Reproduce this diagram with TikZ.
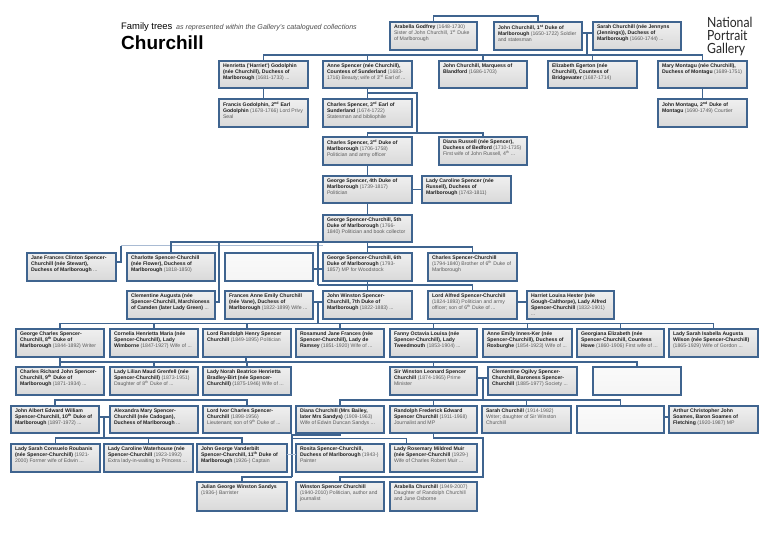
\documentclass[tikz,border=0pt]{standalone}
\usepackage{fontspec}
\setmainfont{Liberation Sans}
\newfontfamily\logofont[FakeStretch=0.87]{Lato}
\usetikzlibrary{shadows,calc}
\definecolor{edge}{HTML}{3F648F}
\definecolor{lightedge}{HTML}{A9BBD3}
\definecolor{namec}{HTML}{1E1E1E}
\definecolor{infoc}{HTML}{5A5A5A}
\tikzset{
  famnode/.style={rectangle,draw=edge,line width=1.1pt,top color=black!6,bottom color=black!15,
    inner xsep=4pt,inner ysep=3pt,outer sep=0pt,anchor=north west,
    drop shadow={shadow xshift=0.8pt,shadow yshift=-0.8pt,fill=black,opacity=0.3}},
  blanknode/.style={famnode,top color=black!2,bottom color=black!4},
  conn/.style={draw=edge,line width=1.05pt},
  faint/.style={draw=lightedge,line width=1pt},
  titletext/.style={anchor=base west,inner sep=0pt,text=black}
}
\newcommand{\famtext}{\fontsize{5.15}{6}\selectfont\raggedright\color{infoc}}
\newcommand{\nm}[1]{\textbf{\textcolor{namec}{#1}}}
\newcommand{\bx}[6]{%
  \pgfmathsetlengthmacro{\bw}{#4-#2-8}%
  \pgfmathsetlengthmacro{\bh}{#5-#3-6}%
  \node[famnode] (#1) at (#2,#3) {\parbox[c][\bh][t]{\bw}{\famtext #6}};}
\newcommand{\bk}[5]{%
  \pgfmathsetlengthmacro{\bw}{#4-#2-8}%
  \pgfmathsetlengthmacro{\bh}{#5-#3-6}%
  \node[blanknode] (#1) at (#2,#3) {\parbox[c][\bh][t]{\bw}{\famtext\strut}};}
\newcommand{\drop}[2]{\draw[conn] (#1.north) -- (#1.north |- #2);}
\newcommand{\sth}[0]{\textsuperscript}
\begin{document}
\begin{tikzpicture}[x=1pt,y=-1pt]
\useasboundingbox (0,0) rectangle (768,544);
\fill[white] (0,0) rectangle (768,544);

\node[titletext,font=\fontsize{9.4}{11}\selectfont] (ft) at (121,29) {Family trees};
\node[titletext,font=\fontsize{7.1}{8}\selectfont\itshape,text=black!70] (fs) at (176,29) {as represented within the Gallery's catalogued collections};
\node[titletext,font=\fontsize{19}{22}\selectfont\bfseries] (fc) at (121,49.5) {Churchill};
\node[titletext,font=\logofont\fontsize{14}{16}\selectfont,text=black!85] (lg1) at (707,27) {National};
\node[titletext,font=\logofont\fontsize{14}{16}\selectfont,text=black!85] (lg2) at (707,40) {Portrait};
\node[titletext,font=\logofont\fontsize{14}{16}\selectfont,text=black!85] (lg3) at (707,53) {Gallery};

% row 0
\bx{arabellaG}{390}{22}{477}{50}{\nm{Arabella Godfrey} (1648-1730)\\Sister of John Churchill, 1\sth{st} Duke\\of Marlborough}
\bx{john}{494}{22}{582}{50}{\nm{John Churchill, 1\sth{st} Duke of}\\\nm{Marlborough} (1650-1722) Soldier\\and statesman}
\bx{sarahJ}{593}{22}{681}{50}{\nm{Sarah Churchill (née Jennyns}\\\nm{(Jennings)), Duchess of}\\\nm{Marlborough} (1660-1744) ...}
% row 1
\bx{henrietta}{219}{61}{308}{88}{\nm{Henrietta ('Harriet') Godolphin}\\\nm{(née Churchill), Duchess of}\\\nm{Marlborough} (1681-1733) ...}
\bx{anne}{323}{61}{412}{88}{\nm{Anne Spencer (née Churchill),}\\\nm{Countess of Sunderland} (1683-\\1716) Beauty; wife of 3\sth{rd} Earl of ...}
\bx{blandford}{439}{61}{527}{88}{\nm{John Churchill, Marquess of}\\\nm{Blandford} (1686-1703)}
\bx{elizabeth}{548}{61}{637}{88}{\nm{Elizabeth Egerton (née}\\\nm{Churchill), Countess of}\\\nm{Bridgewater} (1687-1714)}
\bx{mary}{658}{61}{747}{88}{\nm{Mary Montagu (née Churchill),}\\\nm{Duchess of Montagu} (1689-1751)}
% row 2
\bx{francis}{219}{99}{308}{127}{\nm{Francis Godolphin, 2\sth{nd} Earl}\\\nm{Godolphin} (1678-1766) Lord Privy\\Seal}
\bx{charlesE}{323}{99}{412}{127}{\nm{Charles Spencer, 3\sth{rd} Earl of}\\\nm{Sunderland} (1674-1722)\\Statesman and bibliophile}
\bx{montagu}{658}{99}{747}{127}{\nm{John Montagu, 2\sth{nd} Duke of}\\\nm{Montagu} (1690-1749) Courtier}
% row 3
\bx{charlesD}{323}{137}{412}{165}{\nm{Charles Spencer, 3\sth{rd} Duke of}\\\nm{Marlborough} (1706-1758)\\Politician and army officer}
\bx{dianaR}{439}{137}{527}{165}{\nm{Diana Russell (née Spencer),}\\\nm{Duchess of Bedford} (1710-1735)\\First wife of John Russell, 4\sth{th} ...}
% row 4
\bx{george4}{323}{176}{412}{203}{\nm{George Spencer, 4th Duke of}\\\nm{Marlborough} (1739-1817)\\Politician}
\bx{carolineR}{422}{176}{511}{203}{\nm{Lady Caroline Spencer (née}\\\nm{Russell), Duchess of}\\\nm{Marlborough} (1743-1811)}
% row 5
\bx{george5}{323}{215}{412}{242}{\nm{George Spencer-Churchill, 5th}\\\nm{Duke of Marlborough} (1766-\\1840) Politician and book collector}
% row 6
\bx{jane}{27}{253}{116}{281}{\nm{Jane Frances Clinton Spencer-}\\\nm{Churchill (née Stewart),}\\\nm{Duchess of Marlborough} ...}
\bx{charlotte}{127}{253}{215}{281}{\nm{Charlotte Spencer-Churchill}\\\nm{(née Flower), Duchess of}\\\nm{Marlborough} (1818-1850)}
\bk{blankA}{225}{253}{313}{281}
\bx{george6}{323}{253}{412}{281}{\nm{George Spencer-Churchill, 6th}\\\nm{Duke of Marlborough} (1793-\\1857) MP for Woodstock}
\bx{charlesSC}{428}{253}{517}{281}{\nm{Charles Spencer-Churchill}\\(1794-1840) Brother of 6\sth{th} Duke of\\Marlborough}
% row 7
\bx{clementineA}{127}{291}{215}{319}{\nm{Clementine Augusta (née}\\\nm{Spencer-Churchill, Marchioness}\\\nm{of Camden (later Lady Green)} ...}
\bx{frances}{225}{291}{313}{319}{\nm{Frances Anne Emily Churchill}\\\nm{(née Vane), Duchess of}\\\nm{Marlborough} (1822-1899) Wife ...}
\bx{john7}{323}{291}{412}{319}{\nm{John Winston Spencer-}\\\nm{Churchill, 7th Duke of}\\\nm{Marlborough} (1822-1883) ...}
\bx{alfred}{428}{291}{517}{319}{\nm{Lord Alfred Spencer-Churchill}\\(1824-1893) Politician and army\\officer; son of 6\sth{th} Duke of ...}
\bx{harriet}{527}{291}{614}{319}{\nm{Harriet Louisa Hester (née}\\\nm{Gough-Calthorpe), Lady Alfred}\\\nm{Spencer-Churchill} (1832-1901) ...}
% row 8
\bx{george8}{16}{329}{104}{357}{\nm{George Charles Spencer-}\\\nm{Churchill, 8\sth{th} Duke of}\\\nm{Marlborough} (1844-1892) Writer}
\bx{cornelia}{110}{329}{198}{357}{\nm{Cornelia Henrietta Maria (née}\\\nm{Spencer-Churchill), Lady}\\\nm{Wimborne} (1847-1927) Wife of ...}
\bx{randolphH}{203}{329}{291}{357}{\nm{Lord Randolph Henry Spencer}\\\nm{Churchill} (1849-1895) Politician}
\bx{rosamund}{296}{329}{384}{357}{\nm{Rosamund Jane Frances (née}\\\nm{Spencer-Churchill), Lady de}\\\nm{Ramsey} (1851-1920) Wife of ...}
\bx{fanny}{390}{329}{477}{357}{\nm{Fanny Octavia Louisa (née}\\\nm{Spencer-Churchill), Lady}\\\nm{Tweedmouth} (1853-1904) ...}
\bx{anneE}{483}{329}{572}{357}{\nm{Anne Emily Innes-Ker (née}\\\nm{Spencer-Churchill), Duchess of}\\\nm{Roxburghe} (1854-1923) Wife of ...}
\bx{georgiana}{577}{329}{664}{357}{\nm{Georgiana Elizabeth (née}\\\nm{Spencer-Churchill, Countess}\\\nm{Howe} (1860-1906) First wife of ...}
\bx{sarahW}{669}{329}{758}{357}{\nm{Lady Sarah Isabella Augusta}\\\nm{Wilson (née Spencer-Churchill)}\\(1865-1929) Wife of Gordon ...}
% row 9
\bx{charles9}{16}{367}{104}{395}{\nm{Charles Richard John Spencer-}\\\nm{Churchill, 9\sth{th} Duke of}\\\nm{Marlborough} (1871-1934) ...}
\bx{lilian}{110}{367}{198}{395}{\nm{Lady Lilian Maud Grenfell (née}\\\nm{Spencer-Churchill)} (1873-1951)\\Daughter of 8\sth{th} Duke of ...}
\bx{norah}{203}{367}{291}{395}{\nm{Lady Norah Beatrice Henrietta}\\\nm{Bradley-Birt (née Spencer-}\\\nm{Churchill)} (1875-1946) Wife of ...}
\bx{winston}{390}{367}{477}{395}{\nm{Sir Winston Leonard Spencer}\\\nm{Churchill} (1874-1965) Prime\\Minister}
\bx{clementineO}{488}{367}{577}{395}{\nm{Clementine Ogilvy Spencer-}\\\nm{Churchill, Baroness Spencer-}\\\nm{Churchill} (1885-1977) Society ...}
\bk{blankB}{593}{367}{681}{395}
% row 10
\bx{john10}{11}{406}{99}{433}{\nm{John Albert Edward William}\\\nm{Spencer-Churchill, 10\sth{th} Duke of}\\\nm{Marlborough} (1897-1972) ...}
\bx{alexandra}{110}{406}{198}{433}{\nm{Alexandra Mary Spencer-}\\\nm{Churchill (née Cadogan),}\\\nm{Duchess of Marlborough} ...}
\bx{ivor}{203}{406}{291}{433}{\nm{Lord Ivor Charles Spencer-}\\\nm{Churchill} (1898-1956)\\Lieutenant; son of 9\sth{th} Duke of ...}
\bx{dianaC}{296}{406}{384}{433}{\nm{Diana Churchill (Mrs Bailey,}\\\nm{later Mrs Sandys)} (1909-1963)\\Wife of Edwin Duncan Sandys ...}
\bx{randolphF}{390}{406}{477}{433}{\nm{Randolph Frederick Edward}\\\nm{Spencer Churchill} (1911-1968)\\Journalist and MP}
\bx{sarahC}{482}{406}{571}{433}{\nm{Sarah Churchill} (1914-1982)\\Writer; daughter of Sir Winston\\Churchill}
\bk{blankC}{577}{406}{664}{433}
\bx{arthur}{669}{406}{758}{433}{\nm{Arthur Christopher John}\\\nm{Soames, Baron Soames of}\\\nm{Fletching} (1920-1987) MP}
% row 11
\bx{sarahR}{11}{444}{100}{472}{\nm{Lady Sarah Consuelo Roubanis}\\\nm{(née Spencer-Churchill)} (1921-\\2000) Former wife of Edwin ...}
\bx{carolineW}{104}{444}{193}{472}{\nm{Lady Caroline Waterhouse (née}\\\nm{Spencer-Churchill} (1923-1992)\\Extra lady-in-waiting to Princess ...}
\bx{john11}{197}{444}{287}{472}{\nm{John George Vanderbilt}\\\nm{Spencer-Churchill, 11\sth{th} Duke of}\\\nm{Marlborough} (1926-) Captain}
\bx{rosita}{296}{444}{384}{472}{\nm{Rosita Spencer-Churchill,}\\\nm{Duchess of Marlborough} (1943-)\\Painter}
\bx{rosemary}{390}{444}{477}{472}{\nm{Lady Rosemary Mildred Muir}\\\nm{(née Spencer-Churchill} (1929-)\\Wife of Charles Robert Muir ...}
% row 12
\bx{julian}{197}{482}{287}{511}{\nm{Julian George Winston Sandys}\\(1936-) Barrister}
\bx{winstonSC}{296}{482}{384}{511}{\nm{Winston Spencer Churchill}\\(1940-2010) Politician, author and\\journalist}
\bx{arabellaC}{390}{482}{477}{511}{\nm{Arabella Churchill} (1949-2007)\\Daughter of Randolph Churchill\\and June Osborne}

% helper coordinates
\coordinate (tTop) at (485,16);
\coordinate (j1) at (587,33);
\coordinate (j1b) at (587,55);
\coordinate (a1) at (417,93);
\coordinate (a1b) at (417,133);
\coordinate (b5) at (420,247);
\coordinate (bL) at (318,242);
\coordinate (cl) at (219,302);
\coordinate (jn) at (121,262);
\coordinate (jnT) at (121,245.5);
\coordinate (g6m) at (318,269);
\coordinate (b7) at (318,285);
\coordinate (f7) at (318,302);
\coordinate (b8) at (318,323.5);
\coordinate (al) at (520,302);
\coordinate (b9a) at (150,362);
\coordinate (b9b) at (246,362);
\coordinate (w9) at (483,378);
\coordinate (b10) at (483,400);
\coordinate (b10L) at (150,400);
\coordinate (a10) at (104,417);
\coordinate (b11) at (104,438);
\coordinate (ar) at (666,417);
\coordinate (d10) at (292,435);
\coordinate (d11) at (292,438.5);
\coordinate (b11R) at (483,438);
\coordinate (b12R) at (483,477);
\coordinate (b12L) at (292,477);
\coordinate (r11) at (292,454);

% connectors
\draw[conn] (arabellaG.north) |- (tTop) -| (john.north);
\draw[conn] (john.east |- j1) -- (sarahJ.west |- j1);
\draw[conn] (j1) -- (j1b);
\draw[conn] (henrietta.north) |- (j1b) -| (mary.north);
\drop{anne}{j1b}
\drop{blandford}{j1b}
\drop{elizabeth}{j1b}
\draw[conn] (henrietta.south) -- (francis.north);
\draw[conn] (anne.south) -- (charlesE.north);
\draw[conn] (mary.south) -- (montagu.north);
\draw[conn] (anne.south |- a1) -- (a1) -- (a1b);
\draw[conn] (charlesD.north) |- (a1b) -| (dianaR.north);
\draw[conn] (charlesD.south) -- (george4.north);
\draw[conn] (george4.east) -- (carolineR.west);
\draw[conn] (george4.south) -- (george5.north);
\draw[conn] (george5.south) -- (george6.north);
\draw[conn] (george5.south |- b5) -| (charlesSC.north);
\draw[faint] (jnT) -- (323,245.5);
\draw[conn] (charlotte.north) |- (bL) -- (george5.south west);
\draw[conn] (jane.east |- jn) -- (jn) -- (jnT);
\draw[conn] (clementineA.east |- cl) -- (cl) -- (cl |- bL);
\draw[conn] (bL) -- (b7);
\draw[conn] (blankA.east |- g6m) -- (george6.west |- g6m);
\draw[conn] (b7) -| (alfred.north);
\draw[conn] (george6.south) -- (john7.north);
\draw[conn] (frances.east |- f7) -- (john7.west |- f7);
\draw[conn] (f7) -- (b8);
\draw[conn] (alfred.east |- al) -- (harriet.west |- al);
\draw[conn] (george8.north) |- (b8) -| (sarahW.north);
\drop{cornelia}{b8}
\drop{randolphH}{b8}
\drop{rosamund}{b8}
\drop{fanny}{b8}
\drop{anneE}{b8}
\drop{georgiana}{b8}
\draw[conn] (george8.south) -- (charles9.north);
\draw[conn] (charles9.north) |- (b9a) -| (norah.north);
\drop{lilian}{b9a}
\draw[conn] (randolphH.south -| b9b) -- (b9b) -| (blankB.north);
\drop{winston}{b9b}
\draw[conn] (winston.east |- w9) -- (clementineO.west |- w9);
\draw[conn] (w9) -- (b10);
\draw[conn] (dianaC.north) |- (b10) -| (blankC.north);
\drop{randolphF}{b10}
\drop{sarahC}{b10}
\draw[conn] (blankC.east |- ar) -- (arthur.west |- ar);
\draw[conn] (john10.north) |- (b10L) -| (ivor.north);
\draw[conn] (john10.east |- a10) -- (alexandra.west |- a10);
\draw[conn] (a10) -- (b11);
\draw[conn] (sarahR.north) |- (b11) -| (john11.north);
\drop{carolineW}{b11}
\draw[conn] (dianaC.south) |- (d10) -- (b12L);
\draw[conn] (julian.north) |- (b12L);
\draw[faint] (john11.east |- r11) -- (rosita.west |- r11);
\draw[conn] (d11) -| ($(rosemary.north west)+(16.5,0)$);
\draw[conn] (randolphF.south) |- (b11R) -- (b12R) -| (winstonSC.north);
\end{tikzpicture}
\end{document}
